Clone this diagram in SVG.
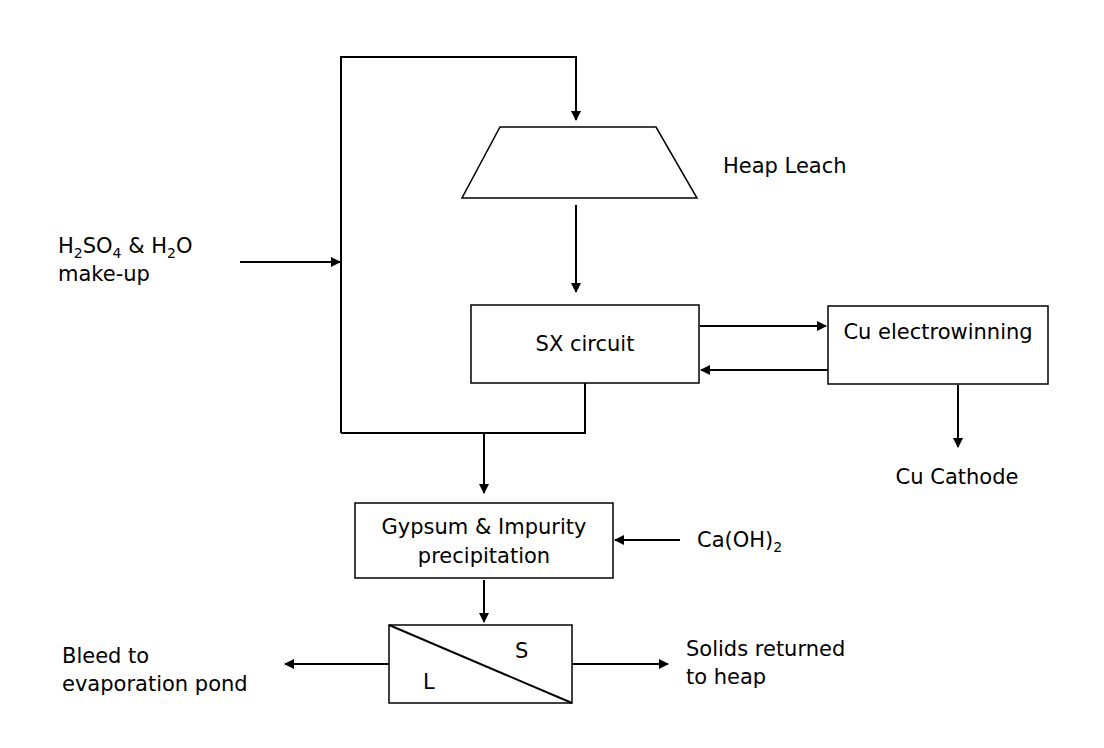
<svg xmlns="http://www.w3.org/2000/svg" width="1104" height="748" viewBox="0 0 1104 748">
<style>
.s{fill:none;stroke:#000;stroke-width:2}
.b{fill:#fff;stroke:#000;stroke-width:1.5}
text{font-family:"DejaVu Sans",Verdana,sans-serif;font-size:21px;fill:#000}
</style>
<defs><marker id="a" markerWidth="10" markerHeight="10" refX="9" refY="5" orient="auto" markerUnits="userSpaceOnUse"><path d="M0,0 L10,5 L0,10 z" fill="#000"/></marker></defs>
<rect width="1104" height="748" fill="#fff"/>
<g id="connectors" class="s">
<path d="M341,433 V57 H576 V120" marker-end="url(#a)"/>
<path d="M585,383 V433 H341"/>
<path d="M576,205 V292" marker-end="url(#a)"/>
<path d="M240,262 H340" marker-end="url(#a)"/>
<path d="M700,326 H826" marker-end="url(#a)"/>
<path d="M828,370 H701" marker-end="url(#a)"/>
<path d="M958,385 V447" marker-end="url(#a)"/>
<path d="M484,433 V493" marker-end="url(#a)"/>
<path d="M680,540 H615" marker-end="url(#a)"/>
<path d="M484,580 V622" marker-end="url(#a)"/>
<path d="M389,664 H285" marker-end="url(#a)"/>
<path d="M572,664 H668" marker-end="url(#a)"/>
</g>
<g id="heap"><path class="b" d="M500,127 H656 L697,198 H462 Z"/><text x="723" y="173">Heap Leach</text></g>
<g id="sx"><rect class="b" x="471" y="305" width="228" height="78"/><text x="585" y="351" text-anchor="middle">SX circuit</text></g>
<g id="cu"><rect class="b" x="828" y="306" width="220" height="78"/><text x="938" y="339" text-anchor="middle">Cu electrowinning</text></g>
<g id="cathode"><text x="957" y="484" text-anchor="middle">Cu Cathode</text></g>
<g id="acid"><text x="58" y="253">H<tspan font-size="14" dy="5">2</tspan><tspan dy="-5">SO</tspan><tspan font-size="14" dy="5">4</tspan><tspan dy="-5"> &amp; H</tspan><tspan font-size="14" dy="5">2</tspan><tspan dy="-5">O</tspan></text><text x="58" y="281">make-up</text></g>
<g id="gypsum"><rect class="b" x="355" y="503" width="258" height="75"/><text x="484" y="534" text-anchor="middle">Gypsum &amp; Impurity</text><text x="484" y="563" text-anchor="middle">precipitation</text></g>
<g id="lime"><text x="697" y="547">Ca(OH)<tspan font-size="14" dy="5">2</tspan></text></g>
<g id="sep"><rect class="b" x="389" y="625" width="183" height="78"/><path class="s" stroke-width="1.5" d="M389,625 L572,703"/><text x="515" y="658">S</text><text x="423" y="689">L</text></g>
<g id="bleed"><text x="62" y="663">Bleed to</text><text x="62" y="691">evaporation pond</text></g>
<g id="solids"><text x="686" y="656">Solids returned</text><text x="686" y="684">to heap</text></g>
</svg>
